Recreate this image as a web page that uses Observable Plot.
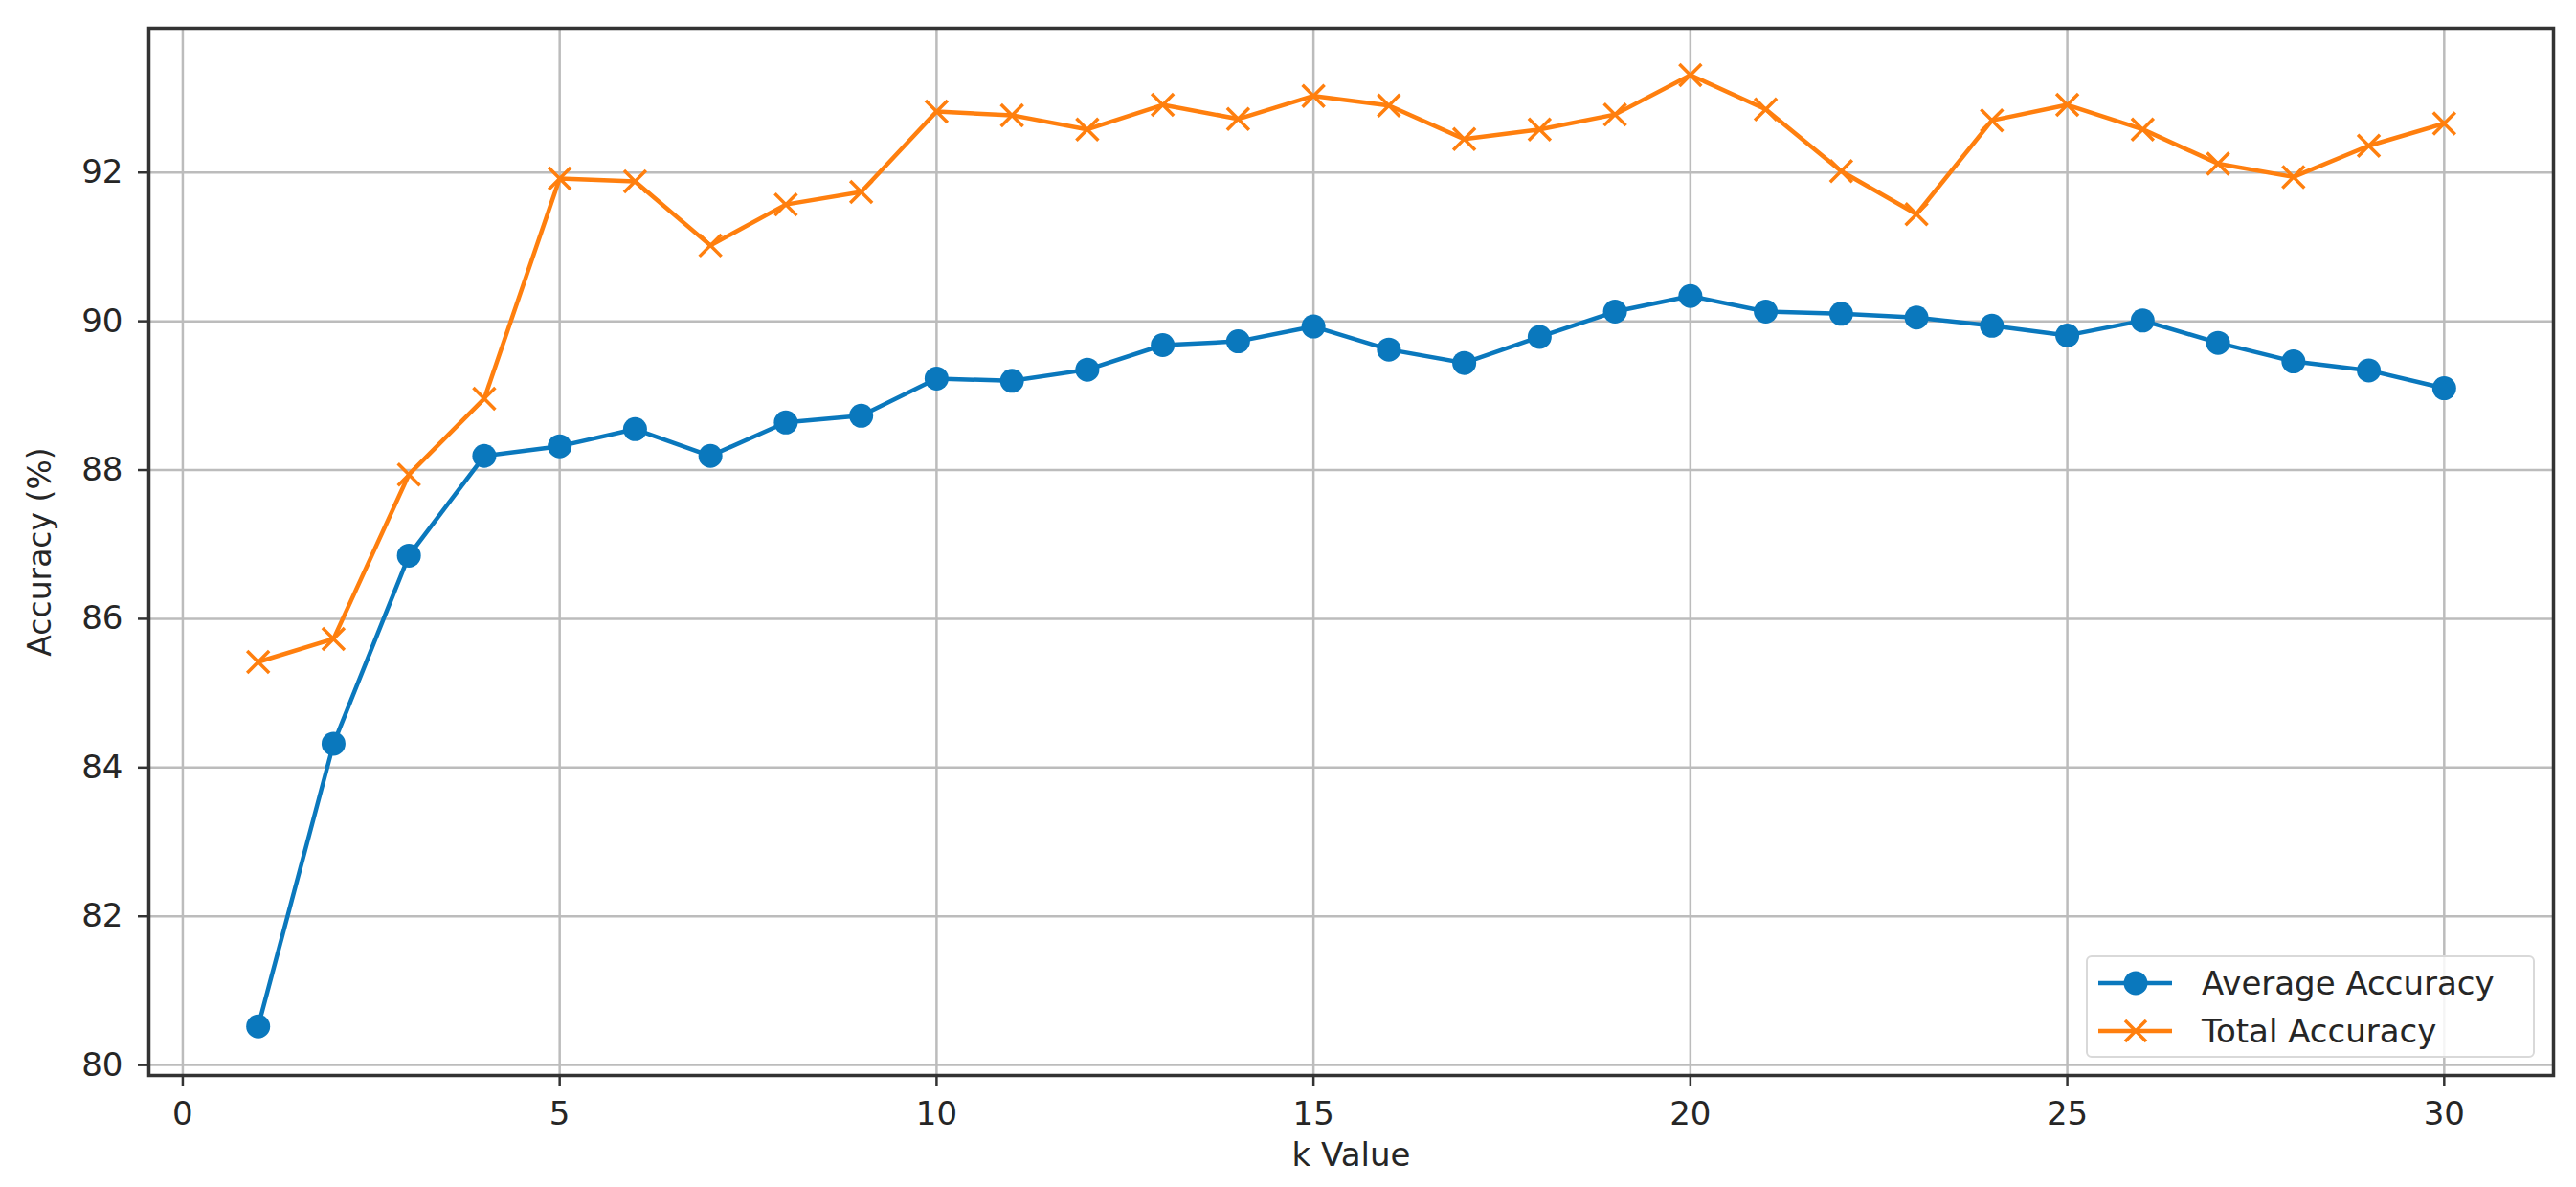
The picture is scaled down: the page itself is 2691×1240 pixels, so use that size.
<!DOCTYPE html>
<html><head><meta charset="utf-8">
<script src="https://cdn.jsdelivr.net/npm/d3@7"></script>
<script src="https://cdn.jsdelivr.net/npm/@observablehq/plot@0.6"></script>
<style>
body{margin:0;background:#fff;}
#wrap{position:relative;width:2691px;height:1240px;}
#legend{position:absolute;left:2179px;top:998px;width:469px;height:107px;box-sizing:border-box;border:2px solid #d9d9d9;border-radius:6px;background:rgba(255,255,255,0.85);font-family:"DejaVu Sans";font-size:34px;color:#262626;}
.row{position:absolute;left:0;height:50px;width:100%;}
.row svg{position:absolute;left:9px;top:0;}
.row span{position:absolute;left:119px;top:0;line-height:50px;white-space:nowrap;}
</style></head><body><div id="wrap"></div>
<script>
const kValues = [1,2,3,4,5,6,7,8,9,10,11,12,13,14,15,16,17,18,19,20,21,22,23,24,25,26,27,28,29,30];
const averageAccuracy = [80.52,84.32,86.85,88.19,88.32,88.55,88.19,88.64,88.73,89.23,89.20,89.35,89.68,89.73,89.93,89.62,89.44,89.79,90.13,90.34,90.13,90.10,90.05,89.94,89.81,90.01,89.71,89.46,89.34,89.10];
const totalAccuracy = [85.42,85.73,87.94,88.96,91.92,91.88,91.02,91.57,91.74,92.82,92.77,92.58,92.91,92.72,93.03,92.90,92.45,92.58,92.78,93.31,92.85,92.02,91.44,92.70,92.91,92.58,92.12,91.94,92.36,92.66];
const xTicks = [0,5,10,15,20,25,30];
const yTicks = [80,82,84,86,88,90,92];
const seriesNames = ["Average Accuracy","Total Accuracy"];
const seriesColors = ["#0a78bd","#ff7f0e"];
const axisLabels = {x: "k Value", y: "Accuracy (%)"};

const avg = kValues.map((k,i)=>({k, v: averageAccuracy[i]}));
const tot = kValues.map((k,i)=>({k, v: totalAccuracy[i]}));

const chart = Plot.plot({
  width: 2691, height: 1240,
  marginLeft: 155, marginRight: 24, marginTop: 29, marginBottom: 117,
  style: {fontFamily: "DejaVu Sans", fontSize: "34px", color: "#262626", background: "#fff"},
  x: {domain: [-0.45, 31.45]},
  y: {domain: [79.86, 93.94]},
  marks: [
    Plot.gridX(xTicks, {stroke: "#bcbcbc", strokeOpacity: 1, strokeWidth: 2.5}),
    Plot.gridY(yTicks, {stroke: "#bcbcbc", strokeOpacity: 1, strokeWidth: 2.5}),
    Plot.axisX(xTicks, {tickSize: 12, tickPadding: 15, strokeWidth: 2.5, fontSize: 34, label: null, stroke: "#333", tickFormat: d => String(d)}),
    Plot.axisY(yTicks, {tickSize: 11, tickPadding: 16, strokeWidth: 2.5, fontSize: 34, label: null, stroke: "#333", tickFormat: d => String(d)}),
    Plot.text([axisLabels.x], {text: d => d, frameAnchor: "bottom", dy: 84, textAnchor: "middle", lineAnchor: "middle", fontSize: 34, fill: "#262626"}),
    Plot.text([axisLabels.y], {text: d => d, frameAnchor: "left", dx: -113, rotate: -90, textAnchor: "middle", lineAnchor: "middle", fontSize: 33, fill: "#262626"}),
    Plot.line(avg, {x: "k", y: "v", stroke: seriesColors[0], strokeWidth: 4.5}),
    Plot.dot(avg, {x: "k", y: "v", r: 12.5, fill: seriesColors[0]}),
    Plot.line(tot, {x: "k", y: "v", stroke: seriesColors[1], strokeWidth: 4.5}),
    Plot.dot(tot, {x: "k", y: "v", r: 10.5, symbol: "times", stroke: seriesColors[1], strokeWidth: 3.5}),
    Plot.frame({stroke: "#333", strokeWidth: 3.5})
  ]
});
const wrap = document.getElementById("wrap");
wrap.appendChild(chart);

// legend
const legend = document.createElement("div");
legend.id = "legend";
seriesNames.forEach((name, i) => {
  const row = document.createElement("div");
  row.className = "row";
  row.style.top = (i === 0 ? 2 : 52) + "px";
  const sym = i === 0
    ? `<circle cx="41" cy="25" r="12.5" fill="${seriesColors[0]}"/>`
    : `<path d="M30,14L52,36M30,36L52,14" stroke="${seriesColors[1]}" stroke-width="3.5" fill="none"/>`;
  row.innerHTML = `<svg width="82" height="50"><line x1="2" y1="25" x2="79" y2="25" stroke="${seriesColors[i]}" stroke-width="4.5"/>${sym}</svg><span>${name}</span>`;
  legend.appendChild(row);
});
wrap.appendChild(legend);
</script>
</body></html>
